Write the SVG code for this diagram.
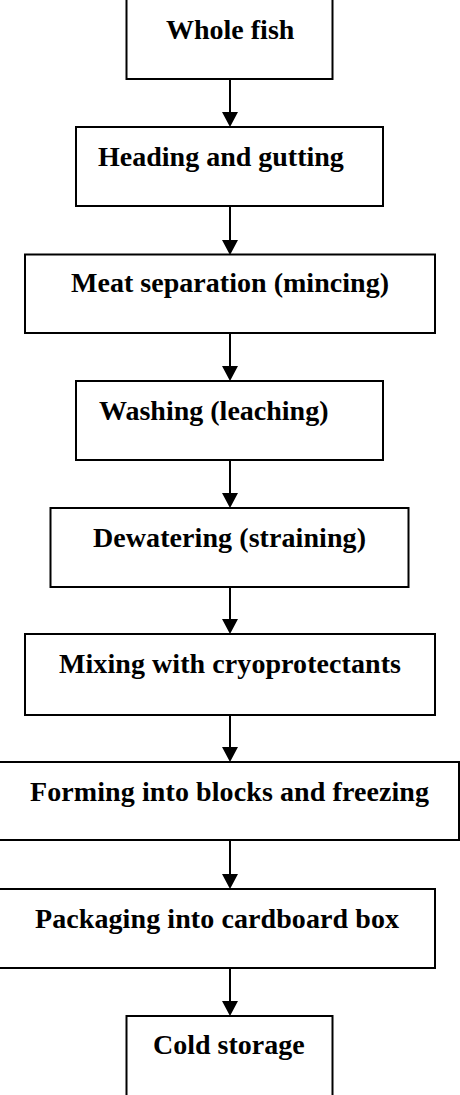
<svg xmlns="http://www.w3.org/2000/svg" width="460" height="1095" viewBox="0 0 460 1095">
<style>
.box{fill:#fff;stroke:#000;stroke-width:2}
.lbl{font-family:"Liberation Serif","Times New Roman",serif;font-weight:bold;font-size:28px;fill:#000}
.con{stroke:#000;stroke-width:2;fill:none}
.head{fill:#000}
</style>
<defs>
<path id="ah" d="M-8,-15 L8,-15 L0,0 Z"/>
</defs>
<rect width="460" height="1095" fill="#fff"/>
<g id="connectors">
<line class="con" x1="230" y1="79" x2="230" y2="120"/>
<line class="con" x1="230" y1="206" x2="230" y2="248"/>
<line class="con" x1="230" y1="333" x2="230" y2="374"/>
<line class="con" x1="230" y1="460" x2="230" y2="501"/>
<line class="con" x1="230" y1="587" x2="230" y2="627"/>
<line class="con" x1="230" y1="715" x2="230" y2="755"/>
<line class="con" x1="230" y1="840" x2="230" y2="882"/>
<line class="con" x1="230" y1="968" x2="230" y2="1009"/>
<use href="#ah" class="head" x="230" y="127"/>
<use href="#ah" class="head" x="230" y="255"/>
<use href="#ah" class="head" x="230" y="381"/>
<use href="#ah" class="head" x="230" y="508"/>
<use href="#ah" class="head" x="230" y="634"/>
<use href="#ah" class="head" x="230" y="762"/>
<use href="#ah" class="head" x="230" y="889"/>
<use href="#ah" class="head" x="230" y="1016"/>
</g>
<g id="n1"><rect class="box" x="126.5" y="-3" width="206" height="82"/><text class="lbl" x="166" y="39">Whole fish</text></g>
<g id="n2"><rect class="box" x="76" y="127" width="307" height="79"/><text class="lbl" x="98" y="166">Heading and gutting</text></g>
<g id="n3"><rect class="box" x="25" y="254.5" width="410" height="78.5"/><text class="lbl" x="71" y="292" textLength="318">Meat separation (mincing)</text></g>
<g id="n4"><rect class="box" x="76" y="381" width="307" height="79"/><text class="lbl" x="99" y="420">Washing (leaching)</text></g>
<g id="n5"><rect class="box" x="50.5" y="508" width="358" height="79"/><text class="lbl" x="93" y="547" textLength="273">Dewatering (straining)</text></g>
<g id="n6"><rect class="box" x="25" y="634" width="410" height="81"/><text class="lbl" x="59" y="673" textLength="342">Mixing with cryoprotectants</text></g>
<g id="n7"><rect class="box" x="-3" y="762" width="462" height="78"/><text class="lbl" x="30" y="801" textLength="399">Forming into blocks and freezing</text></g>
<g id="n8"><rect class="box" x="-3" y="889" width="438" height="79"/><text class="lbl" x="35" y="928" textLength="364">Packaging into cardboard box</text></g>
<g id="n9"><rect class="box" x="126.5" y="1016" width="206" height="85"/><text class="lbl" x="153" y="1054">Cold storage</text></g>
</svg>
